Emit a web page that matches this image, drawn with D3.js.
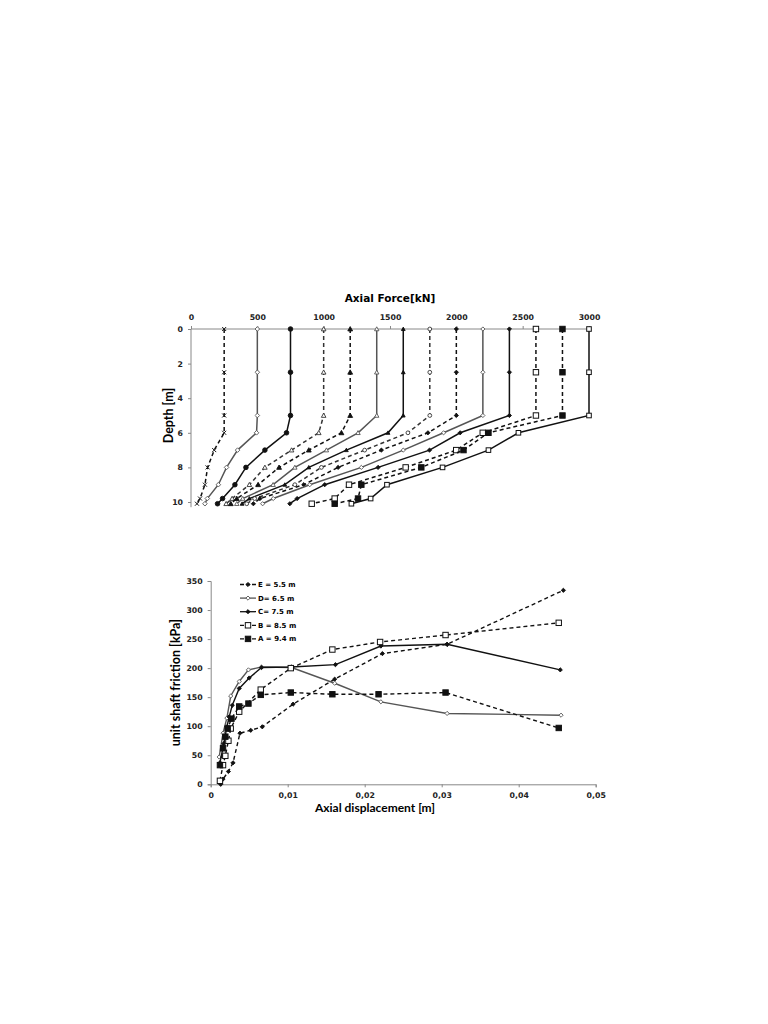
<!DOCTYPE html>
<html>
<head>
<meta charset="utf-8">
<script src="https://cdn.jsdelivr.net/npm/d3@7"></script>
<style>
  body { margin: 0; background: #fff; }
  svg { display: block; }
  .tick text { font-family: "DejaVu Sans", Verdana, sans-serif; font-weight: bold; font-size: 7.8px; fill: #222; }
  .domain { stroke: #888; }
  .tick line { stroke: #888; }
</style>
</head>
<body>
<div id="chart"></div>
<script>
const w = 768;
const h = 1024;

// ---- top chart data: axial force [kN] at each depth [m] ----
const depths = [0, 2.5, 5, 6, 7, 8, 9, 9.8, 10.1];
const f250  = [250, 250, 250, 250, 175, 125, 105, 68, 45];
const f500  = [500, 500, 500, 494, 351, 268, 206, 123, 105];
const f750  = [750, 750, 750, 720, 557, 414, 331, 238, 200];
const f1000 = [1000, 1000, 1000, 963, 758, 557, 440, 310, 265];
const f1200 = [1200, 1200, 1200, 1134, 888, 664, 506, 345, 300];
const f1400 = [1400, 1400, 1400, 1259, 1021, 783, 619, 390, 345];
const f1600 = [1600, 1600, 1600, 1485, 1171, 888, 707, 440, 385];
const f1800 = [1800, 1800, 1800, 1635, 1309, 983, 783, 480, 420];
const f2000 = [2000, 2000, 2000, 1786, 1435, 1109, 850, 520, 470];
const f2200 = [2200, 2200, 2200, 1904, 1600, 1284, 895, 620, 540];
const f2400 = [2400, 2400, 2400, 2029, 1798, 1410, 1008, 800, 745];
const f2600 = [2600, 2600, 2600, 2199, 1999, 1618, 1191, 1083, 910];
const f2800 = [2800, 2800, 2800, 2242, 2054, 1736, 1284, 1259, 1083];
const f3000 = [3000, 3000, 3000, 2468, 2242, 1896, 1477, 1354, 1209];
const forceTicks = [0, 500, 1000, 1500, 2000, 2500, 3000];
const depthTicks = [0, 2, 4, 6, 8, 10];

// ---- bottom chart data: displacement [m] vs unit shaft friction [kPa] ----
const legendNames = ["E = 5.5 m", "D= 6.5 m", "C= 7.5 m", "B = 8.5 m", "A = 9.4 m"];
const dispE = [0.0013, 0.0016, 0.0023, 0.0029, 0.0038, 0.0052, 0.0067, 0.0107, 0.0161, 0.0223, 0.0307, 0.0458];
const fricE = [0, 9, 22, 37, 88, 93, 99, 138, 181, 225, 241, 334];
const dispD = [0.0011, 0.0016, 0.0021, 0.0026, 0.0037, 0.0049, 0.0066, 0.0105, 0.0161, 0.0221, 0.0307, 0.0455];
const fricD = [47, 88, 114, 152, 177, 197, 202, 201, 174, 142, 122, 119];
const dispC = [0.0012, 0.0017, 0.0021, 0.0024, 0.0028, 0.0037, 0.005, 0.0066, 0.0105, 0.0162, 0.0221, 0.0307, 0.0454];
const fricC = [37, 70, 99, 116, 136, 165, 183, 201, 202, 206, 238, 241, 197];
const dispB = [0.0012, 0.0016, 0.0019, 0.0023, 0.0026, 0.0037, 0.0065, 0.0104, 0.0158, 0.022, 0.0305, 0.0452];
const fricB = [6, 33, 49, 75, 96, 125, 163, 200, 232, 245, 257, 278];
const dispA = [0.0012, 0.0016, 0.0019, 0.0022, 0.0027, 0.0037, 0.0049, 0.0065, 0.0104, 0.0158, 0.0218, 0.0305, 0.0452];
const fricA = [33, 62, 82, 96, 113, 134, 139, 154, 158, 155, 155, 158, 97];
const dispTicks = [0, 0.01, 0.02, 0.03, 0.04, 0.05];
const fricTicks = [0, 50, 100, 150, 200, 250, 300, 350];

const svg = d3.select("#chart").append("svg")
  .attr("width", w).attr("height", h);

// marker drawing
function marker(g, type, x, y, s, filled, color) {
  const fill = filled ? color : "#fff";
  if (type === "x") {
    g.append("path")
      .attr("d", `M${x-s},${y-s}L${x+s},${y+s}M${x-s},${y+s}L${x+s},${y-s}`)
      .attr("stroke", color).attr("stroke-width", 1);
  } else if (type === "circle") {
    g.append("circle").attr("cx", x).attr("cy", y).attr("r", s)
      .attr("fill", fill).attr("stroke", color).attr("stroke-width", 0.9);
  } else if (type === "diamond") {
    g.append("path")
      .attr("d", `M${x},${y-s}L${x+s},${y}L${x},${y+s}L${x-s},${y}Z`)
      .attr("fill", fill).attr("stroke", color).attr("stroke-width", 0.9);
  } else if (type === "triangle") {
    g.append("path")
      .attr("d", `M${x},${y-s}L${x+s},${y+s*0.8}L${x-s},${y+s*0.8}Z`)
      .attr("fill", fill).attr("stroke", color).attr("stroke-width", 0.9);
  } else if (type === "square") {
    g.append("rect").attr("x", x-s).attr("y", y-s).attr("width", 2*s).attr("height", 2*s)
      .attr("fill", fill).attr("stroke", color).attr("stroke-width", 1);
  }
}

// ================= TOP CHART =================
const xF = d3.scaleLinear().domain([0, 3000]).range([191, 589]);
const yD = d3.scaleLinear().domain([0, 10]).range([329, 502]);

const topSeries = [
  {f: f250,  type: "x",        filled: false, dash: true,  color: "#111", s: 2.0},
  {f: f500,  type: "diamond",  filled: false, dash: false, color: "#555", s: 2.3},
  {f: f750,  type: "circle",   filled: true,  dash: false, color: "#111", s: 2.3},
  {f: f1000, type: "triangle", filled: false, dash: true,  color: "#333", s: 2.3},
  {f: f1200, type: "triangle", filled: true,  dash: true,  color: "#111", s: 2.4},
  {f: f1400, type: "triangle", filled: false, dash: false, color: "#555", s: 2.2},
  {f: f1600, type: "triangle", filled: true,  dash: false, color: "#111", s: 1.9},
  {f: f1800, type: "circle",   filled: false, dash: true,  color: "#333", s: 1.9},
  {f: f2000, type: "diamond",  filled: true,  dash: true,  color: "#111", s: 2.1},
  {f: f2200, type: "diamond",  filled: false, dash: false, color: "#555", s: 2.1},
  {f: f2400, type: "diamond",  filled: true,  dash: false, color: "#111", s: 2.1},
  {f: f2600, type: "square",   filled: false, dash: true,  color: "#111", s: 2.7},
  {f: f2800, type: "square",   filled: true,  dash: true,  color: "#111", s: 2.7},
  {f: f3000, type: "square",   filled: false, dash: false, color: "#111", s: 2.3}
];

const topG = svg.append("g");

// axes
const xAxisTop = d3.axisTop(xF).tickValues(forceTicks).tickSize(3).tickPadding(6)
  .tickFormat(d3.format("d"));
topG.append("g").attr("transform", `translate(0,${yD(0)})`).call(xAxisTop)
  .call(g => g.select(".domain").attr("d", `M${xF(0)},0H${xF(3000)}`));
const yAxisTop = d3.axisLeft(yD).tickValues(depthTicks).tickSize(3).tickPadding(5);
topG.append("g").attr("transform", `translate(${xF(0)},0)`).call(yAxisTop)
  .call(g => g.select(".domain").attr("d", `M0,${yD(0)}V${yD(10.3)}`));

const lineTop = d3.line().x(d => xF(d[0])).y(d => yD(d[1]));
topSeries.forEach(s => {
  const pts = s.f.map((v, i) => [v, depths[i]]);
  topG.append("path").datum(pts).attr("d", lineTop)
    .attr("fill", "none").attr("stroke", s.color).attr("stroke-width", 1.5)
    .attr("stroke-dasharray", s.dash ? "4,3" : null);
  const mg = topG.append("g");
  pts.forEach(p => marker(mg, s.type, xF(p[0]), yD(p[1]), s.s, s.filled, s.color));
});

topG.append("text").attr("x", 390).attr("y", 302).attr("text-anchor", "middle")
  .style("font-family", "'DejaVu Sans', Verdana, sans-serif").style("font-weight", "bold")
  .style("font-size", "10.5px").text("Axial Force[kN]");
topG.append("text").attr("transform", `translate(173,${yD(5)}) rotate(-90)`)
  .attr("text-anchor", "middle")
  .style("font-family", "Lato, 'Open Sans', sans-serif").style("font-weight", "bold")
  .style("font-size", "12.5px").text("Depth [m]");

// ================= BOTTOM CHART =================
const xS = d3.scaleLinear().domain([0, 0.05]).range([210.7, 595.7]);
const yS = d3.scaleLinear().domain([0, 350]).range([784.3, 581]);

const botG = svg.append("g");
const commaFmt = d => d === 0 ? "0" : d3.format(".2f")(d).replace(".", ",");
botG.append("g").attr("transform", `translate(0,${yS(0)})`)
  .call(d3.axisBottom(xS).tickValues(dispTicks).tickSize(3).tickPadding(5).tickFormat(commaFmt));
botG.append("g").attr("transform", `translate(${xS(0)},0)`)
  .call(d3.axisLeft(yS).tickValues(fricTicks).tickSize(3).tickPadding(5));

const botSeries = [
  {x: dispE, y: fricE, type: "diamond", filled: true,  dash: true,  color: "#111", s: 2.1},
  {x: dispD, y: fricD, type: "diamond", filled: false, dash: false, color: "#555", s: 2.1},
  {x: dispC, y: fricC, type: "diamond", filled: true,  dash: false, color: "#111", s: 2.1},
  {x: dispB, y: fricB, type: "square",  filled: false, dash: true,  color: "#111", s: 2.7},
  {x: dispA, y: fricA, type: "square",  filled: true,  dash: true,  color: "#111", s: 2.7}
];
const lineBot = d3.line().x(d => xS(d[0])).y(d => yS(d[1]));
botSeries.forEach(s => {
  const pts = s.x.map((v, i) => [v, s.y[i]]);
  botG.append("path").datum(pts).attr("d", lineBot)
    .attr("fill", "none").attr("stroke", s.color).attr("stroke-width", 1.4)
    .attr("stroke-dasharray", s.dash ? "4,3" : null);
  const mg = botG.append("g");
  pts.forEach(p => marker(mg, s.type, xS(p[0]), yS(p[1]), s.s, s.filled, s.color));
});

// legend
const leg = botG.append("g");
botSeries.forEach((s, i) => {
  const ly = 584.5 + i * 13.6;
  leg.append("line").attr("x1", 240).attr("x2", 256).attr("y1", ly).attr("y2", ly)
    .attr("stroke", s.color).attr("stroke-width", 1.3)
    .attr("stroke-dasharray", s.dash ? "4,2" : null);
  marker(leg, s.type, 248, ly, s.s, s.filled, s.color);
  leg.append("text").attr("x", 258).attr("y", ly + 2.5)
    .style("font-family", "'DejaVu Sans', Verdana, sans-serif").style("font-weight", "bold")
    .style("font-size", "7px").text(legendNames[i]);
});

botG.append("text").attr("transform", `translate(180,${yS(175)}) rotate(-90)`)
  .attr("text-anchor", "middle")
  .style("font-family", "Lato, 'Open Sans', sans-serif").style("font-weight", "bold")
  .style("font-size", "12.5px").text("unit shaft friction [kPa]");
botG.append("text").attr("x", 375).attr("y", 812).attr("text-anchor", "middle")
  .style("font-family", "Lato, 'Open Sans', sans-serif").style("font-weight", "bold")
  .style("font-size", "12px").text("Axial displacement [m]");
</script>
</body>
</html>
